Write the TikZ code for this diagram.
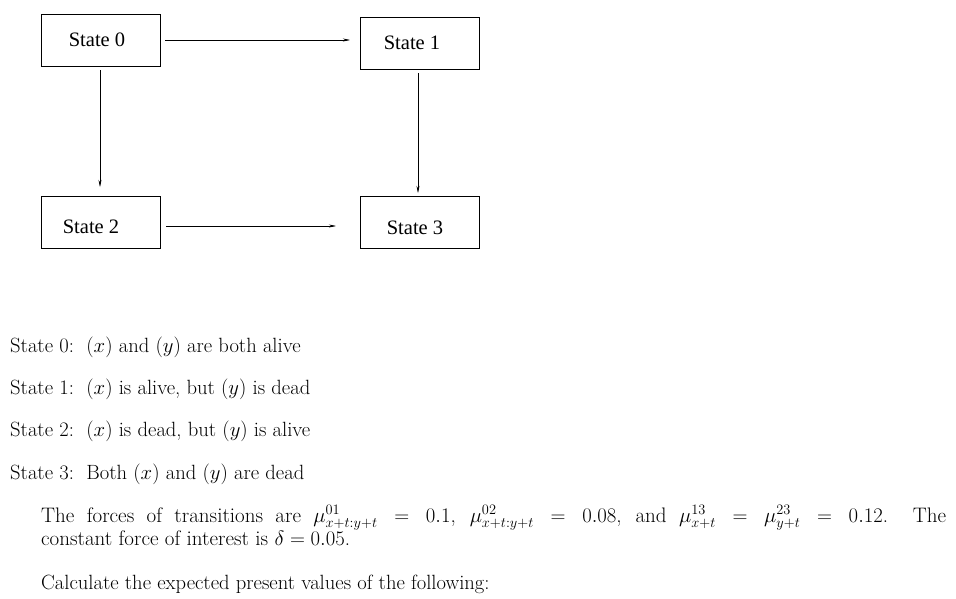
\documentclass[tikz,border=0pt]{standalone}
\usepackage{fontspec}
\newfontfamily\boxfont{Liberation Serif}
\usetikzlibrary{arrows.meta}
\begin{document}
\begin{tikzpicture}[x=1pt,y=-1pt,
  st/.style={inner sep=0pt,font=\boxfont\fontsize{20.5}{24}\selectfont},
  bx/.style={line width=0.6pt},
  ar/.style={line width=0.5pt,-{Stealth[length=7pt,width=3pt]}},
  tx/.style={anchor=west,inner sep=0pt,font=\fontsize{20.6}{25}\selectfont}]
\useasboundingbox (0,0) rectangle (956,598);
\draw[bx] (41,14) rectangle (160,66) (360,17) rectangle (479,69) (41,196) rectangle (160,248) (360,196) rectangle (479,248);
\node[st] (s0) at (97,40) {State 0};
\node[st] (s1) at (412,43) {State 1};
\node[st] (s2) at (91,227) {State 2};
\node[st] (s3) at (415,228) {State 3};
\draw[ar] (165,40) -- (350,40);
\draw[ar] (100,70) -- (100,187);
\draw[ar] (418,73) -- (418,193);
\draw[ar] (166,226) -- (336,226);
\node[tx] (l0) at (10,347) {State 0:\ \ $(x)$ and $(y)$ are both alive};
\node[tx] (l1) at (10,389) {State 1:\ \ $(x)$ is alive, but $(y)$ is dead};
\node[tx] (l2) at (10,431) {State 2:\ \ $(x)$ is dead, but $(y)$ is alive};
\node[tx] (l3) at (10,474) {State 3:\ \ Both $(x)$ and $(y)$ are dead};
\node[anchor=north west,inner sep=0pt,text width=905pt,align=justify,font=\fontsize{21}{22}\selectfont] (p) at (41,505)
 {The forces of transitions are $\mu^{01}_{x+t:y+t}=0.1$, $\mu^{02}_{x+t:y+t}=0.08$, and $\mu^{13}_{x+t}=\mu^{23}_{y+t}=0.12$.\ \ The\linebreak constant force of interest is $\delta=0.05$.};
\node[tx] (c) at (41,584) {Calculate the expected present values of the following:};
\end{tikzpicture}
\end{document}
